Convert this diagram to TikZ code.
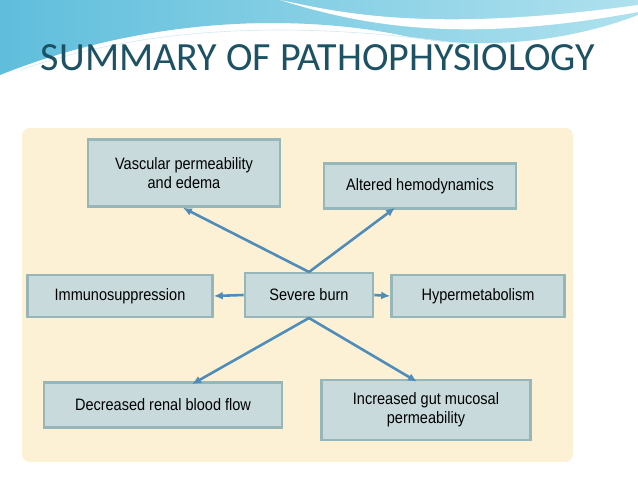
\documentclass[tikz,border=0pt]{standalone}
\usepackage{fontspec}
\setmainfont{Liberation Sans}[FakeStretch=0.88]
\newfontfamily\titlefont{Carlito}
\usetikzlibrary{arrows.meta}
\begin{document}
\begin{tikzpicture}[x=1pt,y=-1pt,
  box/.style={draw=boxline,line width=2.6pt,fill=boxfill,align=center,font=\fontsize{16.5}{19}\selectfont,inner sep=0pt},
  arr/.style={draw=arrowblue,line width=2.6pt,-{Latex[length=9pt,width=8pt]}}]
\definecolor{panel}{RGB}{252,241,212}
\definecolor{boxfill}{RGB}{200,218,220}
\definecolor{boxline}{RGB}{150,182,186}
\definecolor{arrowblue}{RGB}{80,140,185}
\definecolor{titlecol}{RGB}{28,82,100}
\definecolor{waveL}{RGB}{95,190,220}
\definecolor{waveR}{RGB}{175,225,238}
\useasboundingbox (0,0) rectangle (638,478);
\fill[white] (0,0) rectangle (638,478);
% top waves
\shade[left color=waveL,right color=waveR] (0,0) -- (638,0) -- (638,15) .. controls (560,45) and (470,50) .. (400,35) .. controls (300,15) and (150,15) .. (0,75) -- cycle;
\fill[white] (280,0) .. controls (330,10) and (420,35) .. (638,5) -- (638,12) .. controls (460,45) and (360,25) .. (280,0) -- cycle;
\draw[white!70!waveL,line width=0.6pt] (20,70) .. controls (150,25) and (300,20) .. (470,45);
% title
\node[font=\titlefont\fontsize{40}{44}\selectfont,text=titlecol,anchor=center] (title) at (318,58) {SUMMARY OF PATHOPHYSIOLOGY};
% panel
\fill[panel,rounded corners=8pt] (22,128) rectangle (573,462);
% boxes
\node[box,minimum width=192pt,minimum height=67pt] (vasc) at (184,173) {Vascular permeability\\and edema};
\node[box,minimum width=192pt,minimum height=45pt] (alt) at (420,186) {Altered hemodynamics};
\node[box,minimum width=185pt,minimum height=42pt] (imm) at (120,296) {Immunosuppression};
\node[box,minimum width=128pt,minimum height=44pt] (sev) at (309,295) {Severe burn};
\node[box,minimum width=173pt,minimum height=42pt] (hyp) at (478,296) {Hypermetabolism};
\node[box,minimum width=238pt,minimum height=45pt] (dec) at (163,405) {Decreased renal blood flow};
\node[box,minimum width=209pt,minimum height=60pt] (inc) at (426,410) {Increased gut mucosal\\permeability};
% arrows
\coordinate (st) at (309,272);
\coordinate (sb) at (309,318);
\draw[arr] (st) -- ([xshift=-1pt]vasc.south);
\draw[arr] (st) -- ([xshift=-25pt,yshift=2pt]alt.south);
\draw[arr] (sev.west) -- (imm.east);
\draw[arr] (sev.east) -- (hyp.west);
\draw[arr] (sb) -- ([xshift=29pt,yshift=-3pt]dec.north);
\draw[arr] (sb) -- ([xshift=-9pt,yshift=-3pt]inc.north);
\end{tikzpicture}
\end{document}
